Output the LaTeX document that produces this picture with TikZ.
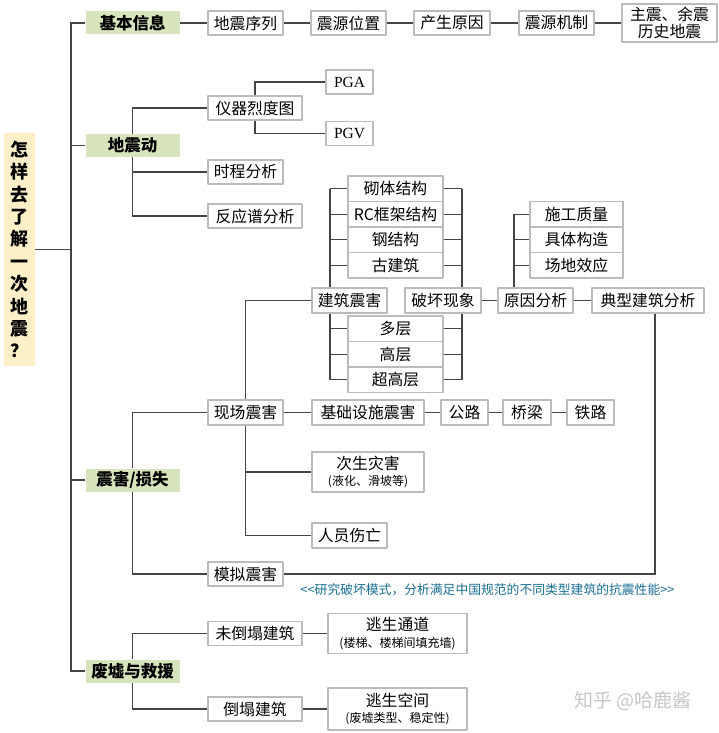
\documentclass[tikz,border=0pt]{standalone}
\usepackage{fontspec}
\setmainfont{Liberation Serif}
\newfontfamily\cjk{Noto Sans CJK SC}
\usetikzlibrary{backgrounds}

\definecolor{rootfill}{HTML}{FDEFC8}
\definecolor{lvlfill}{HTML}{D8E4BC}
\definecolor{boxline}{HTML}{BBBBBB}
\definecolor{wirecol}{HTML}{444444}
\definecolor{remarkcol}{HTML}{1A6E94}

\begin{document}
\begin{tikzpicture}[x=1pt, y=-1pt, line join=round,
  rootbox/.style={fill=rootfill, inner sep=0pt, minimum width=31, minimum height=233, align=center,
    font=\cjk\bfseries\fontsize{18}{22.4}\selectfont},
  lvlone/.style={fill=lvlfill, inner sep=0pt, minimum width=94, minimum height=23,
    font=\cjk\bfseries\fontsize{16.5}{19}\selectfont},
  box/.style={draw=boxline, line width=1.3pt, fill=white, inner sep=0pt, minimum height=24,
    font=\cjk\fontsize{15.8}{17.5}\selectfont},
  twoline/.style={box, align=center, minimum height=40},
  wire/.style={draw=wirecol, line width=1.3pt},
  remark/.style={text=remarkcol, inner sep=0pt, font=\cjk\fontsize{12.8}{14}\selectfont}]

  %% ════ 根 / 一级 ════
  \node[rootbox] (root) at (19.5,249.5) {怎\\样\\去\\了\\解\\一\\次\\地\\震\\？};
  \node[lvlone] (info)   at (132.5,23)  {基本信息};
  \node[lvlone] (motion) at (132.5,145.5) {地震动};
  \node[lvlone] (damage) at (132.5,480) {震害/损失};
  \node[lvlone] (rescue) at (132.5,671) {废墟与救援};

  %% ════ 基本信息 ════
  \node[box, minimum width=75] (seq)   at (245.5,23) {地震序列};
  \node[box, minimum width=75] (loc)   at (348.5,23) {震源位置};
  \node[box, minimum width=76] (cause) at (452,23)   {产生原因};
  \node[box, minimum width=75] (mech)  at (556.5,23) {震源机制};
  \node[box, minimum width=95, minimum height=38, align=center] (hist) at (669.5,23) {主震、余震\\历史地震};

  %% ════ 地震动 ════
  \node[box, minimum width=94] (inst) at (255,108) {仪器烈度图};
  \node[box, minimum width=47, font=\rmfamily\fontsize{15.5}{18}\selectfont] (pga) at (349.5,82)    {PGA};
  \node[box, minimum width=47, font=\rmfamily\fontsize{15.5}{18}\selectfont] (pgv) at (349.5,133.5) {PGV};
  \node[box, minimum width=75] (time) at (245.5,172) {时程分析};
  \node[box, minimum width=94] (resp) at (255,216)   {反应谱分析};

  %% ════ 震害/损失 ════
  \node[box, minimum width=75, minimum height=25] (site) at (245.5,412.5) {现场震害};
  \node[box, minimum width=75] (sim)  at (245.5,574) {模拟震害};
  \node[box, minimum width=75, minimum height=25] (bld) at (349.5,300.5) {建筑震害};
  \node[box, minimum width=112, minimum height=25] (infra)  at (368,412.5)   {基础设施震害};
  \node[box, minimum width=47, minimum height=25]  (road)   at (464.5,412.5) {公路};
  \node[box, minimum width=48, minimum height=25]  (bridge) at (527,412.5)   {桥梁};
  \node[box, minimum width=47, minimum height=25]  (rail)   at (590.5,412.5) {铁路};
  \node[twoline, minimum width=112] (sec) at (368,472)
    {次生灾害\\[-1pt]{\fontsize{12}{13}\selectfont (液化、滑坡等)}};
  \node[box, minimum width=75, minimum height=25] (casu) at (349.5,535.5) {人员伤亡};

  % 结构类型 / 建筑高度
  \node[box, minimum width=95, minimum height=25.5] (mas)   at (395.5,188.75) {砌体结构};
  \node[box, minimum width=95, minimum height=25.5] (rc)    at (395.5,214.25) {RC框架结构};
  \node[box, minimum width=95, minimum height=25.5] (steel) at (395.5,239.75) {钢结构};
  \node[box, minimum width=95, minimum height=25.5] (anc)   at (395.5,265.25) {古建筑};
  \node[box, minimum width=95, minimum height=25.5] (multi) at (395.5,328.75) {多层};
  \node[box, minimum width=95, minimum height=25.5] (high)  at (395.5,354.25) {高层};
  \node[box, minimum width=95, minimum height=25.5] (super) at (395.5,379.75) {超高层};

  \node[box, minimum width=76,  minimum height=25] (fail)    at (443,300.5)   {破坏现象};
  \node[box, minimum width=75,  minimum height=25] (reason)  at (535.5,300.5) {原因分析};
  \node[box, minimum width=112, minimum height=25] (typical) at (648,300.5)   {典型建筑分析};
  \node[box, minimum width=93, minimum height=25.5] (qual)   at (576.5,214.25) {施工质量};
  \node[box, minimum width=93, minimum height=25.5] (detail) at (576.5,239.75) {具体构造};
  \node[box, minimum width=93, minimum height=25.5] (soil)   at (576.5,265.25) {场地效应};

  \node[remark] (note) at (487.5,590) {<\kern0pt<研究破坏模式，分析满足中国规范的不同类型建筑的抗震性能>\kern0pt>};

  %% ════ 废墟与救援 ════
  \node[box, minimum width=94] (intact)    at (255,633.5) {未倒塌建筑};
  \node[box, minimum width=94] (collapsed) at (255,709)   {倒塌建筑};
  \node[twoline, minimum width=139] (exit) at (397.5,633.5)
    {逃生通道\\[-1pt]{\fontsize{12}{13}\selectfont (楼梯、楼梯间填充墙)}};
  \node[twoline, minimum width=139, minimum height=42] (space) at (397.5,709)
    {逃生空间\\[-1pt]{\fontsize{12}{13}\selectfont (废墟类型、稳定性)}};

  \node[font=\cjk\fontsize{19}{22}\selectfont, text=gray!45] (mark) at (633,701) {知乎 @哈鹿酱};

  %% ════ 连线（放在底层，由方框盖住）════
  \coordinate (trunk) at (71,0);
  \coordinate (lbr) at (330,0);
  \coordinate (rbr) at (462,0);
  \coordinate (rsp) at (514,0);
  \coordinate (tsp) at (655,0);
  \begin{scope}[on background layer]
    \draw[wire] (root.east) -- (root.east -| trunk);
    \draw[wire] (info.west) -- (info.west -| trunk) -- (rescue.west -| trunk) -- (rescue.west);
    \draw[wire] (motion.west) -- (motion.west -| trunk);
    \draw[wire] (damage.west) -- (damage.west -| trunk);

    \draw[wire] (info) -- (seq) -- (loc) -- (cause) -- (mech) -- (hist);

    \draw[wire] (inst.west) -| (motion.north);
    \draw[wire] (resp.west) -| (motion.south);
    \draw[wire] (time.west) -- (time.west -| motion.south);
    \draw[wire] (pga.west) -| (inst.north);
    \draw[wire] (pgv.west) -| (inst.south);

    \draw[wire] (site.west) -| (damage.north);
    \draw[wire] (sim.west) -| (damage.south);
    \draw[wire] (bld.west) -| (site.north);
    \draw[wire] (casu.west) -| (site.south);
    \draw[wire] (sec.west) -- (sec.west -| site.south);
    \draw[wire] (site) -- (infra) -- (road) -- (bridge) -- (rail);

    \draw[wire] (mas.west -| lbr) -- (super.west -| lbr);
    \draw[wire] (mas.east -| rbr) -- (super.east -| rbr);
    \foreach \b in {mas,rc,steel,anc,multi,high,super} {
      \draw[wire] (\b.west) -- (\b.west -| lbr);
      \draw[wire] (\b.east) -- (\b.east -| rbr);
    }
    \draw[wire] (fail) -- (reason) -- (typical);
    \draw[wire] (qual.west) -| (rsp |- reason.north);
    \foreach \b in {detail,soil}
      \draw[wire] (\b.west) -- (\b.west -| rsp);
    \draw[wire] (tsp |- typical.south) |- (sim.east);

    \draw[wire] (intact.west) -| (rescue.north);
    \draw[wire] (collapsed.west) -| (rescue.south);
    \draw[wire] (intact) -- (exit);
    \draw[wire] (collapsed) -- (space);
  \end{scope}

  % 钉死画布
  \pgfresetboundingbox
  \path[use as bounding box] (0,0) rectangle (718,733);
\end{tikzpicture}
\end{document}
